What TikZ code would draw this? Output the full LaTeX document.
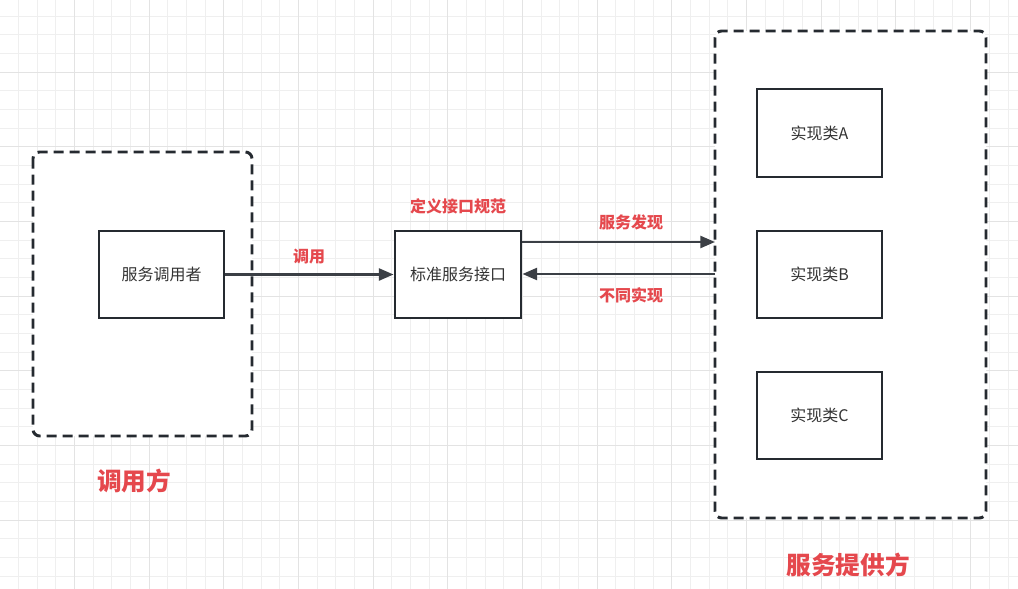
\documentclass[tikz,border=0pt]{standalone}
\usepackage{fontspec}
\setmainfont{Noto Sans CJK SC}
\usetikzlibrary{arrows.meta}
\definecolor{gridminor}{HTML}{EFEFEF}
\definecolor{gridmajor}{HTML}{E3E3E3}
\definecolor{edge}{HTML}{252A30}
\definecolor{lbl}{HTML}{E5484D}
\definecolor{txt}{HTML}{333333}
\tikzset{
  px/.style={x=0.75pt,y=-0.75pt},
  box/.style={draw=edge,line width=2.2pt,fill=white,inner sep=0pt,text=txt,font=\fontsize{12pt}{14pt}\selectfont},
  group/.style={draw=edge,line width=2.2pt,dash pattern=on 7.5pt off 4.5pt,rounded corners=5pt,fill=white},
  conn/.style={draw=edge!90!white,line width=1.8pt,-{Triangle[length=11pt,width=9pt]}},
  elabel/.style={text=lbl,font=\bfseries\fontsize{12pt}{14pt}\selectfont},
  biglabel/.style={text=lbl,font=\bfseries\fontsize{18.5pt}{22pt}\selectfont}
}
\begin{document}
\begin{tikzpicture}[px]
\useasboundingbox (0,0) rectangle (1018,589);
\fill[white] (0,0) rectangle (1018,589);
% grid
\foreach \i in {0,...,55} {
  \pgfmathsetmacro{\xx}{18.5+18.67*(\i-1)}
  \draw[gridminor,line width=0.75pt] (\xx,0) -- (\xx,589);
}
\foreach \i in {0,...,32} {
  \pgfmathsetmacro{\yy}{16+18.67*(\i-1)}
  \draw[gridminor,line width=0.75pt] (0,\yy) -- (1018,\yy);
}
\foreach \i in {0,...,14} {
  \pgfmathsetmacro{\xx}{74.5+74.67*(\i-1)}
  \draw[gridmajor,line width=0.75pt] (\xx,0) -- (\xx,589);
}
\foreach \i in {0,...,8} {
  \pgfmathsetmacro{\yy}{72.3+74.67*(\i-1)}
  \draw[gridmajor,line width=0.75pt] (0,\yy) -- (1018,\yy);
}
% groups
\draw[group] (33,152) rectangle (252,436);
\draw[group] (715,31) rectangle (986,518);
\coordinate (gl) at (715,242);
\coordinate (gl2) at (715,274);
% nodes
\node[box,minimum width=93.75pt,minimum height=65.25pt] (caller) at (161.5,274.5) {服务调用者};
\node[box,minimum width=94.5pt,minimum height=65.25pt] (iface) at (458,274.5) {标准服务接口};
\node[box,minimum width=93.75pt,minimum height=66pt] (A) at (819.5,133) {实现类A};
\node[box,minimum width=93.75pt,minimum height=65.25pt] (B) at (819.5,274.5) {实现类B};
\node[box,minimum width=93.75pt,minimum height=65.25pt] (C) at (819.5,415.5) {实现类C};
% connectors
\draw[conn] (caller.east) -- (iface.west);
\draw[conn] (iface.east |- gl) -- (gl);
\draw[conn] (gl2) -- (iface.east |- gl2);
% labels
\node[elabel] (l1) at (309,257) {调用};
\node[elabel] (l2) at (458,206) {定义接口规范};
\node[elabel] (l3) at (631,222) {服务发现};
\node[elabel] (l4) at (631,295) {不同实现};
\node[biglabel] (g1) at (134,481) {调用方};
\node[biglabel] (g2) at (848,565) {服务提供方};
\end{tikzpicture}
\end{document}
